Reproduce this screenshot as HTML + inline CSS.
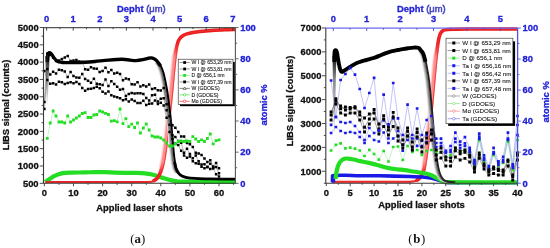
<!DOCTYPE html>
<html><head><meta charset="utf-8"><title>LIBS depth profiles</title>
<style>
html,body{margin:0;padding:0;background:#fff;}
body{width:550px;height:248px;overflow:hidden;}
svg{display:block;font-family:"Liberation Sans", Arial, sans-serif;filter:blur(0.45px);}
</style></head><body>
<svg width="550" height="248" viewBox="0 0 550 248">
<rect width="550" height="248" fill="#fff"/>
<path d="M45.2,182.2 C45.5,181.97 46.2,181.37 47,180.8 C47.8,180.23 48.83,179.57 50,178.8 C51.17,178.03 52.67,176.92 54,176.2 C55.33,175.48 56.53,175 58,174.5 C59.47,174 60.8,173.5 62.8,173.2 C64.8,172.9 66.3,172.83 70,172.7 C73.7,172.57 80.83,172.5 85,172.4 C89.17,172.3 91.67,172.13 95,172.1 C98.33,172.07 101.67,172.12 105,172.2 C108.33,172.28 111.67,172.5 115,172.6 C118.33,172.7 121.67,172.75 125,172.8 C128.33,172.85 131.67,172.82 135,172.9 C138.33,172.98 142.17,173.03 145,173.3 C147.83,173.57 149.83,174 152,174.5 C154.17,175 156,175.67 158,176.3 C160,176.93 162,177.68 164,178.3 C166,178.92 168,179.52 170,180 C172,180.48 173.67,180.92 176,181.2 C178.33,181.48 174.17,181.58 184,181.7 C193.83,181.82 226.5,181.87 235,181.9" fill="none" stroke="#22dd22" stroke-width="4.2" stroke-linejoin="round" stroke-linecap="butt" />
<defs><linearGradient id="rga" gradientUnits="userSpaceOnUse" x1="0" y1="28" x2="0" y2="183"><stop offset="0" stop-color="#ee1c1c"/><stop offset="0.103" stop-color="#ee1c1c"/><stop offset="0.194" stop-color="#ff8c8c"/><stop offset="0.865" stop-color="#ff8c8c"/><stop offset="0.942" stop-color="#ee1c1c"/><stop offset="1" stop-color="#ee1c1c"/></linearGradient></defs>
<path d="M45.5,182.1 C57.92,182.1 102.92,182.13 120,182.1 C137.08,182.07 142.5,182.05 148,181.9 C153.5,181.75 151.5,181.77 153,181.2 C154.5,180.63 156.04,179.78 157,178.5 C157.96,177.22 158.29,175.58 158.74,173.5 C159.19,171.42 159.19,169.08 159.7,166 C160.21,162.92 161.15,159 161.8,155 C162.45,151 163.05,146.5 163.6,142 C164.15,137.5 164.62,132.67 165.1,128 C165.58,123.33 166.05,118.33 166.5,114 C166.95,109.67 167.38,106 167.8,102 C168.22,98 168.62,94 169,90 C169.38,86 169.73,81.83 170.1,78 C170.47,74.17 170.82,70.67 171.2,67 C171.58,63.33 171.8,59.17 172.4,56 C173,52.83 173.94,50.25 174.82,48 C175.7,45.75 176.83,44.07 177.66,42.5 C178.49,40.93 178.99,39.68 179.8,38.6 C180.61,37.52 181.3,36.78 182.5,36 C183.7,35.22 185.25,34.48 187,33.9 C188.75,33.32 190.83,32.9 193,32.5 C195.17,32.1 196.83,31.85 200,31.5 C203.17,31.15 207.83,30.7 212,30.4 C216.17,30.1 221.17,29.87 225,29.7 C228.83,29.53 233.33,29.45 235,29.4" fill="none" stroke="#ffe2e2" stroke-width="1.5" stroke-linejoin="round" stroke-linecap="butt" />
<path d="M45.5,182.1 C57.92,182.1 102.92,182.13 120,182.1 C137.08,182.07 142.5,182.05 148,181.9 C153.5,181.75 151.5,181.77 153,181.2 C154.5,180.63 155.99,179.78 157,178.5 C158.01,177.22 158.49,175.58 159.06,173.5 C159.62,171.42 159.83,169.08 160.4,166 C160.97,162.92 161.85,159 162.5,155 C163.15,151 163.75,146.5 164.3,142 C164.85,137.5 165.32,132.67 165.8,128 C166.28,123.33 166.75,118.33 167.2,114 C167.65,109.67 168.08,106 168.5,102 C168.92,98 169.32,94 169.7,90 C170.08,86 170.43,81.83 170.8,78 C171.17,74.17 171.52,70.67 171.9,67 C172.28,63.33 172.54,59.17 173.1,56 C173.66,52.83 174.47,50.25 175.24,48 C176.01,45.75 176.94,44.07 177.7,42.5 C178.46,40.93 179,39.68 179.8,38.6 C180.6,37.52 181.3,36.78 182.5,36 C183.7,35.22 185.25,34.48 187,33.9 C188.75,33.32 190.83,32.9 193,32.5 C195.17,32.1 196.83,31.85 200,31.5 C203.17,31.15 207.83,30.7 212,30.4 C216.17,30.1 221.17,29.87 225,29.7 C228.83,29.53 233.33,29.45 235,29.4" fill="none" stroke="#ffc8c8" stroke-width="1.5" stroke-linejoin="round" stroke-linecap="butt" />
<path d="M45.5,182.1 C57.92,182.1 102.92,182.13 120,182.1 C137.08,182.07 142.5,182.05 148,181.9 C153.5,181.75 151.5,181.77 153,181.2 C154.5,180.63 155.94,179.78 157,178.5 C158.06,177.22 158.69,175.58 159.37,173.5 C160.05,171.42 160.46,169.08 161.1,166 C161.74,162.92 162.55,159 163.2,155 C163.85,151 164.45,146.5 165,142 C165.55,137.5 166.02,132.67 166.5,128 C166.98,123.33 167.45,118.33 167.9,114 C168.35,109.67 168.78,106 169.2,102 C169.62,98 170.02,94 170.4,90 C170.78,86 171.13,81.83 171.5,78 C171.87,74.17 172.22,70.67 172.6,67 C172.98,63.33 173.29,59.17 173.8,56 C174.31,52.83 175,50.25 175.66,48 C176.31,45.75 177.04,44.07 177.73,42.5 C178.42,40.93 179.01,39.68 179.8,38.6 C180.59,37.52 181.3,36.78 182.5,36 C183.7,35.22 185.25,34.48 187,33.9 C188.75,33.32 190.83,32.9 193,32.5 C195.17,32.1 196.83,31.85 200,31.5 C203.17,31.15 207.83,30.7 212,30.4 C216.17,30.1 221.17,29.87 225,29.7 C228.83,29.53 233.33,29.45 235,29.4" fill="none" stroke="#ffacac" stroke-width="1.5" stroke-linejoin="round" stroke-linecap="butt" />
<path d="M153,181.2 C153.67,180.75 155.83,179.78 157,178.5 C158.17,177.22 159.08,175.58 160,173.5 C160.92,171.42 161.73,169.08 162.5,166 C163.27,162.92 163.95,159 164.6,155 C165.25,151 165.85,146.5 166.4,142 C166.95,137.5 167.42,132.67 167.9,128 C168.38,123.33 168.85,118.33 169.3,114 C169.75,109.67 170.18,106 170.6,102 C171.02,98 171.42,94 171.8,90 C172.18,86 172.53,81.83 172.9,78 C173.27,74.17 173.62,70.67 174,67 C174.38,63.33 174.78,59.17 175.2,56 C175.62,52.83 176.07,50.25 176.5,48 C176.93,45.75 177.25,44.07 177.8,42.5 C178.35,40.93 179.02,39.68 179.8,38.6 C180.58,37.52 181.3,36.78 182.5,36 C183.7,35.22 185.25,34.48 187,33.9 C188.75,33.32 190.83,32.9 193,32.5 C195.17,32.1 196.83,31.85 200,31.5 C203.17,31.15 207.83,30.7 212,30.4 C216.17,30.1 221.17,29.87 225,29.7 C228.83,29.53 233.33,29.45 235,29.4" fill="none" stroke="url(#rga)" stroke-width="3.5" stroke-linejoin="round" stroke-linecap="butt" />
<path d="M45.5,182.1 C57.92,182.1 102.92,182.13 120,182.1 C137.08,182.07 142.5,182.05 148,181.9 C153.5,181.75 151.5,181.77 153,181.2 C154.5,180.63 156.33,178.95 157,178.5" fill="none" stroke="#ee1c1c" stroke-width="2.0" stroke-linejoin="round" stroke-linecap="butt" />
<path d="M45.5,182.1 C57.92,182.1 102.92,182.13 120,182.1 C137.08,182.07 142.5,182.05 148,181.9 C153.5,181.75 151.5,181.77 153,181.2 C154.5,180.63 155.75,179.78 157,178.5 C158.25,177.22 159.4,175.58 160.5,173.5 C161.59,171.42 162.73,169.08 163.6,166 C164.47,162.92 165.05,159 165.7,155 C166.35,151 166.95,146.5 167.5,142 C168.05,137.5 168.52,132.67 169,128 C169.48,123.33 169.95,118.33 170.4,114 C170.85,109.67 171.28,106 171.7,102 C172.12,98 172.52,94 172.9,90 C173.28,86 173.63,81.83 174,78 C174.37,74.17 174.72,70.67 175.1,67 C175.48,63.33 175.96,59.17 176.3,56 C176.64,52.83 176.9,50.25 177.16,48 C177.42,45.75 177.42,44.07 177.86,42.5 C178.3,40.93 179.03,39.68 179.8,38.6 C180.57,37.52 181.3,36.78 182.5,36 C183.7,35.22 185.25,34.48 187,33.9 C188.75,33.32 190.83,32.9 193,32.5 C195.17,32.1 196.83,31.85 200,31.5 C203.17,31.15 207.83,30.7 212,30.4 C216.17,30.1 221.17,29.87 225,29.7 C228.83,29.53 233.33,29.45 235,29.4" fill="none" stroke="#ec3434" stroke-width="0.9" stroke-linejoin="round" stroke-linecap="butt" />
<defs><linearGradient id="ga" x1="0" y1="0" x2="0" y2="1"><stop offset="0" stop-color="#111"/><stop offset="0.35" stop-color="#777"/><stop offset="1" stop-color="#f2f2f2"/></linearGradient><linearGradient id="gb" x1="0" y1="0" x2="0" y2="1"><stop offset="0" stop-color="#111"/><stop offset="0.3" stop-color="#888"/><stop offset="1" stop-color="#f0f0f0"/></linearGradient></defs>
<path d="M45.4,56 L49.6,56 L47.6,104 L46.6,104 Z" fill="url(#ga)"/>
<path d="M155.1,63 C155.43,63.5 156.48,64.83 157.1,66 C157.72,67.17 158.3,68.67 158.8,70 C159.3,71.33 159.68,72.42 160.1,74 C160.52,75.58 160.85,77.33 161.3,79.5 C161.75,81.67 162.33,84.42 162.8,87 C163.27,89.58 163.68,92.17 164.1,95 C164.52,97.83 164.92,101 165.3,104 C165.68,107 166.05,110 166.4,113 C166.75,116 167.08,118.83 167.4,122 C167.72,125.17 168,128.5 168.3,132 C168.6,135.5 168.9,139.5 169.2,143 C169.5,146.5 169.77,149.83 170.1,153 C170.43,156.17 170.78,159.42 171.2,162 C171.62,164.58 171.95,166.67 172.6,168.5 C173.25,170.33 174.68,172.25 175.1,173" fill="none" stroke="#e6e6e6" stroke-width="1.4" stroke-linejoin="round" stroke-linecap="butt" />
<path d="M155.8,63 C156.13,63.5 157.18,64.83 157.8,66 C158.42,67.17 159,68.67 159.5,70 C160,71.33 160.38,72.42 160.8,74 C161.22,75.58 161.55,77.33 162,79.5 C162.45,81.67 163.03,84.42 163.5,87 C163.97,89.58 164.38,92.17 164.8,95 C165.22,97.83 165.62,101 166,104 C166.38,107 166.75,110 167.1,113 C167.45,116 167.78,118.83 168.1,122 C168.42,125.17 168.7,128.5 169,132 C169.3,135.5 169.6,139.5 169.9,143 C170.2,146.5 170.47,149.83 170.8,153 C171.13,156.17 171.48,159.42 171.9,162 C172.32,164.58 172.65,166.67 173.3,168.5 C173.95,170.33 175.38,172.25 175.8,173" fill="none" stroke="#c8c8c8" stroke-width="1.4" stroke-linejoin="round" stroke-linecap="butt" />
<path d="M156.5,63 C156.83,63.5 157.88,64.83 158.5,66 C159.12,67.17 159.7,68.67 160.2,70 C160.7,71.33 161.08,72.42 161.5,74 C161.92,75.58 162.25,77.33 162.7,79.5 C163.15,81.67 163.73,84.42 164.2,87 C164.67,89.58 165.08,92.17 165.5,95 C165.92,97.83 166.32,101 166.7,104 C167.08,107 167.45,110 167.8,113 C168.15,116 168.48,118.83 168.8,122 C169.12,125.17 169.4,128.5 169.7,132 C170,135.5 170.3,139.5 170.6,143 C170.9,146.5 171.17,149.83 171.5,153 C171.83,156.17 172.18,159.42 172.6,162 C173.02,164.58 173.35,166.67 174,168.5 C174.65,170.33 176.08,172.25 176.5,173" fill="none" stroke="#a0a0a0" stroke-width="1.4" stroke-linejoin="round" stroke-linecap="butt" />
<path d="M157.2,63 C157.53,63.5 158.58,64.83 159.2,66 C159.82,67.17 160.4,68.67 160.9,70 C161.4,71.33 161.78,72.42 162.2,74 C162.62,75.58 162.95,77.33 163.4,79.5 C163.85,81.67 164.43,84.42 164.9,87 C165.37,89.58 165.78,92.17 166.2,95 C166.62,97.83 167.02,101 167.4,104 C167.78,107 168.15,110 168.5,113 C168.85,116 169.18,118.83 169.5,122 C169.82,125.17 170.1,128.5 170.4,132 C170.7,135.5 171,139.5 171.3,143 C171.6,146.5 171.87,149.83 172.2,153 C172.53,156.17 172.88,159.42 173.3,162 C173.72,164.58 174.05,166.67 174.7,168.5 C175.35,170.33 176.78,172.25 177.2,173" fill="none" stroke="#707070" stroke-width="1.4" stroke-linejoin="round" stroke-linecap="butt" />
<path d="M158.8,63 C159.13,63.5 160.18,64.83 160.8,66 C161.42,67.17 162,68.67 162.5,70 C163,71.33 163.38,72.42 163.8,74 C164.22,75.58 164.55,77.33 165,79.5 C165.45,81.67 166.03,84.42 166.5,87 C166.97,89.58 167.38,92.17 167.8,95 C168.22,97.83 168.62,101 169,104 C169.38,107 169.75,110 170.1,113 C170.45,116 170.78,118.83 171.1,122 C171.42,125.17 171.7,128.5 172,132 C172.3,135.5 172.6,139.5 172.9,143 C173.2,146.5 173.47,149.83 173.8,153 C174.13,156.17 174.48,159.42 174.9,162 C175.32,164.58 175.65,166.67 176.3,168.5 C176.95,170.33 178.38,172.25 178.8,173" fill="none" stroke="#000" stroke-width="2.0" stroke-linejoin="round" stroke-linecap="butt" />
<path d="M173,162 C173.23,163.08 173.75,166.67 174.4,168.5 C175.05,170.33 175.9,171.75 176.9,173 C177.9,174.25 178.98,175.23 180.4,176 C181.82,176.77 182.97,177.2 185.4,177.6 C187.83,178 190.9,178.18 195,178.4 C199.1,178.62 203.33,178.77 210,178.9 C216.67,179.03 230.83,179.15 235,179.2" fill="none" stroke="#aaa" stroke-width="1.2" stroke-linejoin="round" stroke-linecap="butt" />
<path d="M173.8,162 C174.03,163.08 174.55,166.67 175.2,168.5 C175.85,170.33 176.7,171.75 177.7,173 C178.7,174.25 179.78,175.23 181.2,176 C182.62,176.77 183.9,177.2 186.2,177.6 C188.5,178 191.03,178.18 195,178.4 C198.97,178.62 203.33,178.77 210,178.9 C216.67,179.03 230.83,179.15 235,179.2" fill="none" stroke="#555" stroke-width="1.4" stroke-linejoin="round" stroke-linecap="butt" />
<path d="M174.6,162 C174.83,163.08 175.35,166.67 176,168.5 C176.65,170.33 177.5,171.75 178.5,173 C179.5,174.25 180.58,175.23 182,176 C183.42,176.77 184.83,177.2 187,177.6 C189.17,178 191.17,178.18 195,178.4 C198.83,178.62 203.33,178.77 210,178.9 C216.67,179.03 230.83,179.15 235,179.2" fill="none" stroke="#000" stroke-width="2.8" stroke-linejoin="round" stroke-linecap="butt" />
<path d="M47.3,62 C47.35,61 47.4,57.47 47.6,56 C47.8,54.53 48.1,53.73 48.5,53.2 C48.9,52.67 49.42,52.53 50,52.8 C50.58,53.07 51.25,53.85 52,54.8 C52.75,55.75 53.58,57.43 54.5,58.5 C55.42,59.57 56.42,60.58 57.5,61.2 C58.58,61.82 59.58,61.97 61,62.2 C62.42,62.43 63.67,62.53 66,62.6 C68.33,62.67 71.83,62.65 75,62.6 C78.17,62.55 81.67,62.48 85,62.3 C88.33,62.12 91.07,61.87 95,61.5 C98.93,61.13 104.1,60.47 108.6,60.1 C113.1,59.73 118.43,59.3 122,59.3 C125.57,59.3 127.67,59.88 130,60.1 C132.33,60.32 133.88,60.67 136,60.6 C138.12,60.53 140.7,60.08 142.7,59.7 C144.7,59.32 146.58,58.6 148,58.3 C149.42,58 150.2,57.82 151.2,57.9 C152.2,57.98 153.13,58.35 154,58.8 C154.87,59.25 155.65,59.9 156.4,60.6 C157.15,61.3 157.82,62.1 158.5,63 C159.18,63.9 160.17,65.5 160.5,66" fill="none" stroke="#000" stroke-width="3.4" stroke-linejoin="round" stroke-linecap="butt" />
<path d="M44.4,102 L47.31,53.5 L50.22,55 L53.13,57.5 L56.04,61 L58.95,60.5 L61.86,58.9 L64.77,57.5 L67.68,55.9 L70.59,61 L73.5,60.5 L76.41,60.1 L79.32,61.5 L82.23,62 L85.14,69.23 L88.05,69.72 L90.96,67.13 L93.87,68.53 L96.78,68.73 L99.69,71.91 L102.6,71.01 L105.51,67.73 L108.42,72.21 L111.33,69.95 L114.24,73.61 L117.15,72.81 L120.06,73.91 L122.97,80.18 L125.88,78.49 L128.79,79.35 L131.7,84.18 L134.61,84.44 L137.52,82.24 L140.43,86.57 L143.34,85.2 L146.25,86.5 L149.16,84.61 L152.07,89.01 L154.98,88.28 L157.89,90.28 L160.8,90.48 L163.71,87.95 L166.62,104.28 L169.53,116.26 L172.44,125.16 L175.35,127.74 L178.26,131.97 L181.17,136.54 L184.08,136.42 L186.99,142.93 L189.9,144.16 L192.81,147.01 L195.72,152.66 L198.63,153.4 L201.54,155.04 L204.45,158.4 L207.36,162.06 L210.27,160.2 L213.18,166.47 L216.09,163.02 L219,168.3" fill="none" stroke="#555" stroke-width="0.45" stroke-linejoin="round" />
<path d="M44.4,109 L47.31,68.95 L50.22,74.42 L53.13,71.78 L56.04,73.46 L58.95,69.82 L61.86,70.3 L64.77,71.45 L67.68,76.94 L70.59,72.01 L73.5,76.05 L76.41,77.46 L79.32,77.78 L82.23,73.94 L85.14,79.01 L88.05,80.67 L90.96,82.87 L93.87,78.83 L96.78,83.69 L99.69,84.27 L102.6,84.95 L105.51,79.6 L108.42,86.03 L111.33,81.22 L114.24,83.92 L117.15,86.75 L120.06,89.84 L122.97,88.91 L125.88,95.88 L128.79,93.91 L131.7,92.92 L134.61,93.55 L137.52,93.21 L140.43,93.13 L143.34,93.99 L146.25,98.04 L149.16,100.5 L152.07,95.2 L154.98,94.81 L157.89,101.56 L160.8,98.85 L163.71,98.36 L166.62,110.21 L169.53,124.64 L172.44,135.22 L175.35,136.95 L178.26,140.97 L181.17,142.73 L184.08,152.83 L186.99,148.82 L189.9,153.96 L192.81,158.3 L195.72,155.49 L198.63,161.33 L201.54,164.56 L204.45,164.14 L207.36,166.96 L210.27,163.83 L213.18,167.55 L216.09,167.11 L219,173.34" fill="none" stroke="#555" stroke-width="0.45" stroke-linejoin="round" />
<path d="M44.4,71 L47.31,80.1 L50.22,83.77 L53.13,83.27 L56.04,84.39 L58.95,81.64 L61.86,82.24 L64.77,84.07 L67.68,82.95 L70.59,82.21 L73.5,83.27 L76.41,82.11 L79.32,83.88 L82.23,87.93 L85.14,90.76 L88.05,89.1 L90.96,88.66 L93.87,88.03 L96.78,86.87 L99.69,88.3 L102.6,91.69 L105.51,93.4 L108.42,91.57 L111.33,95.32 L114.24,96.45 L117.15,97.17 L120.06,98.32 L122.97,100.22 L125.88,99.18 L128.79,101.57 L131.7,99.38 L134.61,100.95 L137.52,103 L140.43,102.88 L143.34,100.84 L146.25,105.1 L149.16,103.67 L152.07,103.6 L154.98,100.53 L157.89,104.09 L160.8,102.66 L163.71,105.53 L166.62,117.78 L169.53,131.9 L172.44,138.88 L175.35,143.79 L178.26,145.09 L181.17,150.86 L184.08,155.43 L186.99,157.72 L189.9,156.6 L192.81,161.31 L195.72,163.22 L198.63,163.63 L201.54,166.86 L204.45,168.24 L207.36,167.11 L210.27,168.93 L213.18,168.5 L216.09,174.27 L219,176.62" fill="none" stroke="#555" stroke-width="0.45" stroke-linejoin="round" />
<path d="M43.15,100.75h2.5v2.5h-2.5zM46.06,52.25h2.5v2.5h-2.5zM48.97,53.75h2.5v2.5h-2.5zM51.88,56.25h2.5v2.5h-2.5zM54.79,59.75h2.5v2.5h-2.5zM57.7,59.25h2.5v2.5h-2.5zM60.61,57.65h2.5v2.5h-2.5zM63.52,56.25h2.5v2.5h-2.5zM66.43,54.65h2.5v2.5h-2.5zM69.34,59.75h2.5v2.5h-2.5zM72.25,59.25h2.5v2.5h-2.5zM75.16,58.85h2.5v2.5h-2.5zM78.07,60.25h2.5v2.5h-2.5zM80.98,60.75h2.5v2.5h-2.5zM83.89,67.98h2.5v2.5h-2.5zM86.8,68.47h2.5v2.5h-2.5zM89.71,65.88h2.5v2.5h-2.5zM92.62,67.28h2.5v2.5h-2.5zM95.53,67.48h2.5v2.5h-2.5zM98.44,70.66h2.5v2.5h-2.5zM101.35,69.76h2.5v2.5h-2.5zM104.26,66.48h2.5v2.5h-2.5zM107.17,70.96h2.5v2.5h-2.5zM110.08,68.7h2.5v2.5h-2.5zM112.99,72.36h2.5v2.5h-2.5zM115.9,71.56h2.5v2.5h-2.5zM118.81,72.66h2.5v2.5h-2.5zM121.72,78.93h2.5v2.5h-2.5zM124.63,77.24h2.5v2.5h-2.5zM127.54,78.1h2.5v2.5h-2.5zM130.45,82.93h2.5v2.5h-2.5zM133.36,83.19h2.5v2.5h-2.5zM136.27,80.99h2.5v2.5h-2.5zM139.18,85.32h2.5v2.5h-2.5zM142.09,83.95h2.5v2.5h-2.5zM145,85.25h2.5v2.5h-2.5zM147.91,83.36h2.5v2.5h-2.5zM150.82,87.76h2.5v2.5h-2.5zM153.73,87.03h2.5v2.5h-2.5zM156.64,89.03h2.5v2.5h-2.5zM159.55,89.23h2.5v2.5h-2.5zM162.46,86.7h2.5v2.5h-2.5zM165.37,103.03h2.5v2.5h-2.5zM168.28,115.01h2.5v2.5h-2.5zM171.19,123.91h2.5v2.5h-2.5zM174.1,126.49h2.5v2.5h-2.5zM177.01,130.72h2.5v2.5h-2.5zM179.92,135.29h2.5v2.5h-2.5zM182.83,135.17h2.5v2.5h-2.5zM185.74,141.68h2.5v2.5h-2.5zM188.65,142.91h2.5v2.5h-2.5zM191.56,145.76h2.5v2.5h-2.5zM194.47,151.41h2.5v2.5h-2.5zM197.38,152.15h2.5v2.5h-2.5zM200.29,153.79h2.5v2.5h-2.5zM203.2,157.15h2.5v2.5h-2.5zM206.11,160.81h2.5v2.5h-2.5zM209.02,158.95h2.5v2.5h-2.5zM211.93,165.22h2.5v2.5h-2.5zM214.84,161.77h2.5v2.5h-2.5zM217.75,167.05h2.5v2.5h-2.5z" fill="#000"/>
<path d="M43.15,107.75h2.5v2.5h-2.5zM46.06,67.7h2.5v2.5h-2.5zM48.97,73.17h2.5v2.5h-2.5zM51.88,70.53h2.5v2.5h-2.5zM54.79,72.21h2.5v2.5h-2.5zM57.7,68.57h2.5v2.5h-2.5zM60.61,69.05h2.5v2.5h-2.5zM63.52,70.2h2.5v2.5h-2.5zM66.43,75.69h2.5v2.5h-2.5zM69.34,70.76h2.5v2.5h-2.5zM72.25,74.8h2.5v2.5h-2.5zM75.16,76.21h2.5v2.5h-2.5zM78.07,76.53h2.5v2.5h-2.5zM80.98,72.69h2.5v2.5h-2.5zM83.89,77.76h2.5v2.5h-2.5zM86.8,79.42h2.5v2.5h-2.5zM89.71,81.62h2.5v2.5h-2.5zM92.62,77.58h2.5v2.5h-2.5zM95.53,82.44h2.5v2.5h-2.5zM98.44,83.02h2.5v2.5h-2.5zM101.35,83.7h2.5v2.5h-2.5zM104.26,78.35h2.5v2.5h-2.5zM107.17,84.78h2.5v2.5h-2.5zM110.08,79.97h2.5v2.5h-2.5zM112.99,82.67h2.5v2.5h-2.5zM115.9,85.5h2.5v2.5h-2.5zM118.81,88.59h2.5v2.5h-2.5zM121.72,87.66h2.5v2.5h-2.5zM124.63,94.63h2.5v2.5h-2.5zM127.54,92.66h2.5v2.5h-2.5zM130.45,91.67h2.5v2.5h-2.5zM133.36,92.3h2.5v2.5h-2.5zM136.27,91.96h2.5v2.5h-2.5zM139.18,91.88h2.5v2.5h-2.5zM142.09,92.74h2.5v2.5h-2.5zM145,96.79h2.5v2.5h-2.5zM147.91,99.25h2.5v2.5h-2.5zM150.82,93.95h2.5v2.5h-2.5zM153.73,93.56h2.5v2.5h-2.5zM156.64,100.31h2.5v2.5h-2.5zM159.55,97.6h2.5v2.5h-2.5zM162.46,97.11h2.5v2.5h-2.5zM165.37,108.96h2.5v2.5h-2.5zM168.28,123.39h2.5v2.5h-2.5zM171.19,133.97h2.5v2.5h-2.5zM174.1,135.7h2.5v2.5h-2.5zM177.01,139.72h2.5v2.5h-2.5zM179.92,141.48h2.5v2.5h-2.5zM182.83,151.58h2.5v2.5h-2.5zM185.74,147.57h2.5v2.5h-2.5zM188.65,152.71h2.5v2.5h-2.5zM191.56,157.05h2.5v2.5h-2.5zM194.47,154.24h2.5v2.5h-2.5zM197.38,160.08h2.5v2.5h-2.5zM200.29,163.31h2.5v2.5h-2.5zM203.2,162.89h2.5v2.5h-2.5zM206.11,165.71h2.5v2.5h-2.5zM209.02,162.58h2.5v2.5h-2.5zM211.93,166.3h2.5v2.5h-2.5zM214.84,165.86h2.5v2.5h-2.5zM217.75,172.09h2.5v2.5h-2.5z" fill="#000"/>
<path d="M43.15,69.75h2.5v2.5h-2.5zM46.06,78.85h2.5v2.5h-2.5zM48.97,82.52h2.5v2.5h-2.5zM51.88,82.02h2.5v2.5h-2.5zM54.79,83.14h2.5v2.5h-2.5zM57.7,80.39h2.5v2.5h-2.5zM60.61,80.99h2.5v2.5h-2.5zM63.52,82.82h2.5v2.5h-2.5zM66.43,81.7h2.5v2.5h-2.5zM69.34,80.96h2.5v2.5h-2.5zM72.25,82.02h2.5v2.5h-2.5zM75.16,80.86h2.5v2.5h-2.5zM78.07,82.63h2.5v2.5h-2.5zM80.98,86.68h2.5v2.5h-2.5zM83.89,89.51h2.5v2.5h-2.5zM86.8,87.85h2.5v2.5h-2.5zM89.71,87.41h2.5v2.5h-2.5zM92.62,86.78h2.5v2.5h-2.5zM95.53,85.62h2.5v2.5h-2.5zM98.44,87.05h2.5v2.5h-2.5zM101.35,90.44h2.5v2.5h-2.5zM104.26,92.15h2.5v2.5h-2.5zM107.17,90.32h2.5v2.5h-2.5zM110.08,94.07h2.5v2.5h-2.5zM112.99,95.2h2.5v2.5h-2.5zM115.9,95.92h2.5v2.5h-2.5zM118.81,97.07h2.5v2.5h-2.5zM121.72,98.97h2.5v2.5h-2.5zM124.63,97.93h2.5v2.5h-2.5zM127.54,100.32h2.5v2.5h-2.5zM130.45,98.13h2.5v2.5h-2.5zM133.36,99.7h2.5v2.5h-2.5zM136.27,101.75h2.5v2.5h-2.5zM139.18,101.63h2.5v2.5h-2.5zM142.09,99.59h2.5v2.5h-2.5zM145,103.85h2.5v2.5h-2.5zM147.91,102.42h2.5v2.5h-2.5zM150.82,102.35h2.5v2.5h-2.5zM153.73,99.28h2.5v2.5h-2.5zM156.64,102.84h2.5v2.5h-2.5zM159.55,101.41h2.5v2.5h-2.5zM162.46,104.28h2.5v2.5h-2.5zM165.37,116.53h2.5v2.5h-2.5zM168.28,130.65h2.5v2.5h-2.5zM171.19,137.63h2.5v2.5h-2.5zM174.1,142.54h2.5v2.5h-2.5zM177.01,143.84h2.5v2.5h-2.5zM179.92,149.61h2.5v2.5h-2.5zM182.83,154.18h2.5v2.5h-2.5zM185.74,156.47h2.5v2.5h-2.5zM188.65,155.35h2.5v2.5h-2.5zM191.56,160.06h2.5v2.5h-2.5zM194.47,161.97h2.5v2.5h-2.5zM197.38,162.38h2.5v2.5h-2.5zM200.29,165.61h2.5v2.5h-2.5zM203.2,166.99h2.5v2.5h-2.5zM206.11,165.86h2.5v2.5h-2.5zM209.02,167.68h2.5v2.5h-2.5zM211.93,167.25h2.5v2.5h-2.5zM214.84,173.02h2.5v2.5h-2.5zM217.75,175.37h2.5v2.5h-2.5z" fill="#000"/>
<path d="M47.31,138.4 L50.22,123 L53.13,111 L56.04,116 L58.95,122 L61.86,122 L64.77,123 L67.68,116 L70.59,122 L73.5,120 L76.41,118 L79.32,116 L82.23,113.5 L85.14,112.7 L88.05,117.5 L90.96,117.5 L93.87,115 L96.78,114.5 L99.69,111 L102.6,112 L105.51,113.3 L108.42,114.5 L111.33,121.2 L114.24,120.6 L117.15,121.8 L120.06,109 L122.97,123.6 L125.88,118.7 L128.79,126.6 L131.7,124.2 L134.61,127.5 L137.52,123 L140.43,133 L143.34,128 L146.25,124 L149.16,130 L152.07,136 L154.98,137 L157.89,137 L160.8,138 L163.71,140 L166.62,143 L169.53,146 L172.44,146 L175.35,144 L178.26,141.5 L181.17,141 L184.08,141.5 L186.99,141 L189.9,141.5 L192.81,136.6 L195.72,139 L198.63,141.5 L201.54,139.8 L204.45,141.5 L207.36,138.5 L210.27,134 L213.18,143.9 L216.09,140.6 L219,139.8" fill="none" stroke="#66ee66" stroke-width="0.45" stroke-linejoin="round" />
<path d="M45.91,137h2.8v2.8h-2.8zM48.82,121.6h2.8v2.8h-2.8zM51.73,109.6h2.8v2.8h-2.8zM54.64,114.6h2.8v2.8h-2.8zM57.55,120.6h2.8v2.8h-2.8zM60.46,120.6h2.8v2.8h-2.8zM63.37,121.6h2.8v2.8h-2.8zM66.28,114.6h2.8v2.8h-2.8zM69.19,120.6h2.8v2.8h-2.8zM72.1,118.6h2.8v2.8h-2.8zM75.01,116.6h2.8v2.8h-2.8zM77.92,114.6h2.8v2.8h-2.8zM80.83,112.1h2.8v2.8h-2.8zM83.74,111.3h2.8v2.8h-2.8zM86.65,116.1h2.8v2.8h-2.8zM89.56,116.1h2.8v2.8h-2.8zM92.47,113.6h2.8v2.8h-2.8zM95.38,113.1h2.8v2.8h-2.8zM98.29,109.6h2.8v2.8h-2.8zM101.2,110.6h2.8v2.8h-2.8zM104.11,111.9h2.8v2.8h-2.8zM107.02,113.1h2.8v2.8h-2.8zM109.93,119.8h2.8v2.8h-2.8zM112.84,119.2h2.8v2.8h-2.8zM115.75,120.4h2.8v2.8h-2.8zM118.66,107.6h2.8v2.8h-2.8zM121.57,122.2h2.8v2.8h-2.8zM124.48,117.3h2.8v2.8h-2.8zM127.39,125.2h2.8v2.8h-2.8zM130.3,122.8h2.8v2.8h-2.8zM133.21,126.1h2.8v2.8h-2.8zM136.12,121.6h2.8v2.8h-2.8zM139.03,131.6h2.8v2.8h-2.8zM141.94,126.6h2.8v2.8h-2.8zM144.85,122.6h2.8v2.8h-2.8zM147.76,128.6h2.8v2.8h-2.8zM150.67,134.6h2.8v2.8h-2.8zM153.58,135.6h2.8v2.8h-2.8zM156.49,135.6h2.8v2.8h-2.8zM159.4,136.6h2.8v2.8h-2.8zM162.31,138.6h2.8v2.8h-2.8zM165.22,141.6h2.8v2.8h-2.8zM168.13,144.6h2.8v2.8h-2.8zM171.04,144.6h2.8v2.8h-2.8zM173.95,142.6h2.8v2.8h-2.8zM176.86,140.1h2.8v2.8h-2.8zM179.77,139.6h2.8v2.8h-2.8zM182.68,140.1h2.8v2.8h-2.8zM185.59,139.6h2.8v2.8h-2.8zM188.5,140.1h2.8v2.8h-2.8zM191.41,135.2h2.8v2.8h-2.8zM194.32,137.6h2.8v2.8h-2.8zM197.23,140.1h2.8v2.8h-2.8zM200.14,138.4h2.8v2.8h-2.8zM203.05,140.1h2.8v2.8h-2.8zM205.96,137.1h2.8v2.8h-2.8zM208.87,132.6h2.8v2.8h-2.8zM211.78,142.5h2.8v2.8h-2.8zM214.69,139.2h2.8v2.8h-2.8zM217.6,138.4h2.8v2.8h-2.8z" fill="#22dd22"/>
<path d="M43.5,27.6V183.3" stroke="#3a3a3a" stroke-width="1.1"/>
<path d="M43,183.3H235.9" stroke="#3a3a3a" stroke-width="1.1"/>
<path d="M43,27.6H235.9" stroke="#555" stroke-width="1.1"/>
<path d="M235.4,27.6V183.3" stroke="#555" stroke-width="1.1"/>
<path d="M43.5,183.3h-3.8M43.5,174.65h-2M43.5,165.99h-3.8M43.5,157.34h-2M43.5,148.68h-3.8M43.5,140.03h-2M43.5,131.37h-3.8M43.5,122.72h-2M43.5,114.06h-3.8M43.5,105.41h-2M43.5,96.75h-3.8M43.5,88.1h-2M43.5,79.44h-3.8M43.5,70.79h-2M43.5,62.13h-3.8M43.5,53.48h-2M43.5,44.82h-3.8M43.5,36.17h-2M43.5,27.51h-3.8" stroke="#3a3a3a" stroke-width="0.9"/>
<path d="M44.4,183.3v3M58.95,183.3v1.6M73.5,183.3v3M88.05,183.3v1.6M102.6,183.3v3M117.15,183.3v1.6M131.7,183.3v3M146.25,183.3v1.6M160.8,183.3v3M175.35,183.3v1.6M189.9,183.3v3M204.45,183.3v1.6M219,183.3v3M233.55,183.3v1.6" stroke="#3a3a3a" stroke-width="0.9"/>
<path d="M46.6,27.6v3M59.9,27.6v1.6M73.2,27.6v3M86.5,27.6v1.6M99.8,27.6v3M113.1,27.6v1.6M126.4,27.6v3M139.7,27.6v1.6M153,27.6v3M166.3,27.6v1.6M179.6,27.6v3M192.9,27.6v1.6M206.2,27.6v3M219.5,27.6v1.6M232.8,27.6v3" stroke="#333" stroke-width="0.9"/>
<path d="M235.4,183.3h3.2M235.4,167.73h1.8M235.4,152.16h3.2M235.4,136.59h1.8M235.4,121.02h3.2M235.4,105.45h1.8M235.4,89.88h3.2M235.4,74.31h1.8M235.4,58.74h3.2M235.4,43.17h1.8M235.4,27.6h3.2" stroke="#555" stroke-width="0.9"/>
<text x="38.6" y="186.6" font-size="9.4" font-weight="bold" fill="#111" stroke="#111" stroke-width="0.3" text-anchor="end" >500</text>
<text x="38.6" y="169.29" font-size="9.4" font-weight="bold" fill="#111" stroke="#111" stroke-width="0.3" text-anchor="end" >1000</text>
<text x="38.6" y="151.98" font-size="9.4" font-weight="bold" fill="#111" stroke="#111" stroke-width="0.3" text-anchor="end" >1500</text>
<text x="38.6" y="134.67" font-size="9.4" font-weight="bold" fill="#111" stroke="#111" stroke-width="0.3" text-anchor="end" >2000</text>
<text x="38.6" y="117.36" font-size="9.4" font-weight="bold" fill="#111" stroke="#111" stroke-width="0.3" text-anchor="end" >2500</text>
<text x="38.6" y="100.05" font-size="9.4" font-weight="bold" fill="#111" stroke="#111" stroke-width="0.3" text-anchor="end" >3000</text>
<text x="38.6" y="82.74" font-size="9.4" font-weight="bold" fill="#111" stroke="#111" stroke-width="0.3" text-anchor="end" >3500</text>
<text x="38.6" y="65.43" font-size="9.4" font-weight="bold" fill="#111" stroke="#111" stroke-width="0.3" text-anchor="end" >4000</text>
<text x="38.6" y="48.12" font-size="9.4" font-weight="bold" fill="#111" stroke="#111" stroke-width="0.3" text-anchor="end" >4500</text>
<text x="38.6" y="30.81" font-size="9.4" font-weight="bold" fill="#111" stroke="#111" stroke-width="0.3" text-anchor="end" >5000</text>
<text x="44.4" y="196.3" font-size="9.4" font-weight="bold" fill="#111" stroke="#111" stroke-width="0.3" text-anchor="middle" >0</text>
<text x="73.5" y="196.3" font-size="9.4" font-weight="bold" fill="#111" stroke="#111" stroke-width="0.3" text-anchor="middle" >10</text>
<text x="102.6" y="196.3" font-size="9.4" font-weight="bold" fill="#111" stroke="#111" stroke-width="0.3" text-anchor="middle" >20</text>
<text x="131.7" y="196.3" font-size="9.4" font-weight="bold" fill="#111" stroke="#111" stroke-width="0.3" text-anchor="middle" >30</text>
<text x="160.8" y="196.3" font-size="9.4" font-weight="bold" fill="#111" stroke="#111" stroke-width="0.3" text-anchor="middle" >40</text>
<text x="189.9" y="196.3" font-size="9.4" font-weight="bold" fill="#111" stroke="#111" stroke-width="0.3" text-anchor="middle" >50</text>
<text x="219" y="196.3" font-size="9.4" font-weight="bold" fill="#111" stroke="#111" stroke-width="0.3" text-anchor="middle" >60</text>
<text x="46.6" y="21.6" font-size="9.4" font-weight="bold" fill="#2222d8" stroke="#2222d8" stroke-width="0.3" text-anchor="middle" >0</text>
<text x="73.2" y="21.6" font-size="9.4" font-weight="bold" fill="#2222d8" stroke="#2222d8" stroke-width="0.3" text-anchor="middle" >1</text>
<text x="99.8" y="21.6" font-size="9.4" font-weight="bold" fill="#2222d8" stroke="#2222d8" stroke-width="0.3" text-anchor="middle" >2</text>
<text x="126.4" y="21.6" font-size="9.4" font-weight="bold" fill="#2222d8" stroke="#2222d8" stroke-width="0.3" text-anchor="middle" >3</text>
<text x="153" y="21.6" font-size="9.4" font-weight="bold" fill="#2222d8" stroke="#2222d8" stroke-width="0.3" text-anchor="middle" >4</text>
<text x="179.6" y="21.6" font-size="9.4" font-weight="bold" fill="#2222d8" stroke="#2222d8" stroke-width="0.3" text-anchor="middle" >5</text>
<text x="206.2" y="21.6" font-size="9.4" font-weight="bold" fill="#2222d8" stroke="#2222d8" stroke-width="0.3" text-anchor="middle" >6</text>
<text x="232.8" y="21.6" font-size="9.4" font-weight="bold" fill="#2222d8" stroke="#2222d8" stroke-width="0.3" text-anchor="middle" >7</text>
<text x="240.2" y="186.6" font-size="9.4" font-weight="bold" fill="#2222d8" stroke="#2222d8" stroke-width="0.3" text-anchor="start" >0</text>
<text x="240.2" y="155.46" font-size="9.4" font-weight="bold" fill="#2222d8" stroke="#2222d8" stroke-width="0.3" text-anchor="start" >20</text>
<text x="240.2" y="124.32" font-size="9.4" font-weight="bold" fill="#2222d8" stroke="#2222d8" stroke-width="0.3" text-anchor="start" >40</text>
<text x="240.2" y="93.18" font-size="9.4" font-weight="bold" fill="#2222d8" stroke="#2222d8" stroke-width="0.3" text-anchor="start" >60</text>
<text x="240.2" y="62.04" font-size="9.4" font-weight="bold" fill="#2222d8" stroke="#2222d8" stroke-width="0.3" text-anchor="start" >80</text>
<text x="240.2" y="30.9" font-size="9.4" font-weight="bold" fill="#2222d8" stroke="#2222d8" stroke-width="0.3" text-anchor="start" >100</text>
<text x="139.5" y="211.2" font-size="9.4" font-weight="bold" fill="#111" stroke="#111" stroke-width="0.3" text-anchor="middle" >Applied laser shots</text>
<text x="117" y="11.8" font-size="9.4" font-weight="bold" fill="#2222d8" stroke="#2222d8" stroke-width="0.3" text-anchor="start" >Depht <tspan fill="#4a4ac4" stroke="#4a4ac4" font-weight="normal" stroke-width="0.6">(μm)</tspan></text>
<text transform="translate(9.4,105) rotate(-90)" font-size="9.4" font-weight="bold" fill="#111" stroke="#111" stroke-width="0.3" text-anchor="middle">LIBS signal (counts)</text>
<text transform="translate(266.6,105) rotate(-90)" font-size="9.4" font-weight="bold" fill="#2222d8" stroke="#2222d8" stroke-width="0.3" text-anchor="middle">atomic %</text>
<rect x="180" y="62" width="54.8" height="44.2" fill="#000"/>
<rect x="178.2" y="59.2" width="54.8" height="45.2" fill="#fff" stroke="#222" stroke-width="0.6"/>
<path d="M179.5,62.5H189.8" stroke="#555" stroke-width="0.6"/>
<rect x="183.25" y="61.1" width="2.8" height="2.8" fill="#000"/>
<text x="191.4" y="64.35" font-size="5.15" fill="#1a1a1a" stroke="#1a1a1a" stroke-width="0.1">W I @ 653,29 nm</text>
<path d="M179.5,68.97H189.8" stroke="#555" stroke-width="0.6"/>
<rect x="183.25" y="67.57" width="2.8" height="2.8" fill="#000"/>
<text x="191.4" y="70.82" font-size="5.15" fill="#1a1a1a" stroke="#1a1a1a" stroke-width="0.1">W I @ 653,81 nm</text>
<path d="M179.5,75.44H189.8" stroke="#66ee66" stroke-width="0.6"/>
<rect x="183.25" y="74.04" width="2.8" height="2.8" fill="#22dd22"/>
<text x="191.4" y="77.29" font-size="5.15" fill="#1a1a1a" stroke="#1a1a1a" stroke-width="0.1">D @ 656,1 nm</text>
<path d="M179.5,81.91H189.8" stroke="#555" stroke-width="0.6"/>
<rect x="183.25" y="80.51" width="2.8" height="2.8" fill="#000"/>
<text x="191.4" y="83.76" font-size="5.15" fill="#1a1a1a" stroke="#1a1a1a" stroke-width="0.1">W I @ 657,39 nm</text>
<path d="M179.5,88.38H189.8" stroke="#333" stroke-width="0.6"/>
<path d="M183.15,89.48L184.65,86.98L186.15,89.48z" fill="#fff" stroke="#333" stroke-width="0.6"/>
<text x="191.4" y="90.23" font-size="5.15" fill="#1a1a1a" stroke="#1a1a1a" stroke-width="0.1">W (GDOES)</text>
<path d="M179.5,94.85H189.8" stroke="#22dd22" stroke-width="0.6"/>
<circle cx="184.65" cy="94.85" r="1.3" fill="#fff" stroke="#22dd22" stroke-width="0.6"/>
<text x="191.4" y="96.7" font-size="5.15" fill="#1a1a1a" stroke="#1a1a1a" stroke-width="0.1">D (GDOES)</text>
<path d="M179.5,101.32H189.8" stroke="#ee1c1c" stroke-width="0.6"/>
<circle cx="184.65" cy="101.32" r="1.3" fill="#fff" stroke="#ee1c1c" stroke-width="0.6"/>
<text x="191.4" y="103.17" font-size="5.15" fill="#1a1a1a" stroke="#1a1a1a" stroke-width="0.1">Mo (GDOES)</text>
<defs><linearGradient id="rgb" gradientUnits="userSpaceOnUse" x1="0" y1="28" x2="0" y2="183"><stop offset="0" stop-color="#ee1c1c"/><stop offset="0.103" stop-color="#ee1c1c"/><stop offset="0.194" stop-color="#ff8c8c"/><stop offset="0.865" stop-color="#ff8c8c"/><stop offset="0.942" stop-color="#ee1c1c"/><stop offset="1" stop-color="#ee1c1c"/></linearGradient></defs>
<path d="M332,181.8 C343.33,181.8 386.67,181.83 400,181.8 C413.33,181.77 409.33,181.77 412,181.6 C414.67,181.43 414.83,181.27 416,180.8 C417.17,180.33 418.21,179.73 419,178.8 C419.79,177.87 420.29,176.78 420.72,175.2 C421.14,173.62 421.15,172.33 421.56,169.3 C421.98,166.27 422.66,161.05 423.2,157 C423.74,152.95 424.3,149 424.8,145 C425.3,141 425.77,137 426.2,133 C426.63,129 427.03,124.83 427.4,121 C427.77,117.17 428.07,113.67 428.4,110 C428.73,106.33 429.07,102.67 429.4,99 C429.73,95.33 430.07,91.67 430.4,88 C430.73,84.33 431.07,80.67 431.4,77 C431.73,73.33 432.07,69.33 432.4,66 C432.73,62.67 432.95,59.75 433.4,57 C433.85,54.25 434.34,51.92 435.1,49.5 C435.86,47.08 437.28,44.58 437.96,42.5 C438.64,40.42 438.76,38.55 439.2,37 C439.64,35.45 440.05,34.2 440.6,33.2 C441.15,32.2 441.77,31.55 442.5,31 C443.23,30.45 443.42,30.18 445,29.9 C446.58,29.62 447.83,29.45 452,29.3 C456.17,29.15 459.17,29.07 470,29 C480.83,28.93 509.17,28.92 517,28.9" fill="none" stroke="#ffe2e2" stroke-width="1.5" stroke-linejoin="round" stroke-linecap="butt" />
<path d="M332,181.8 C343.33,181.8 386.67,181.83 400,181.8 C413.33,181.77 409.33,181.77 412,181.6 C414.67,181.43 414.83,181.27 416,180.8 C417.17,180.33 418.18,179.73 419,178.8 C419.82,177.87 420.38,176.78 420.91,175.2 C421.44,173.62 421.68,172.33 422.17,169.3 C422.67,166.27 423.35,161.05 423.9,157 C424.45,152.95 425,149 425.5,145 C426,141 426.47,137 426.9,133 C427.33,129 427.73,124.83 428.1,121 C428.47,117.17 428.77,113.67 429.1,110 C429.43,106.33 429.77,102.67 430.1,99 C430.43,95.33 430.77,91.67 431.1,88 C431.43,84.33 431.77,80.67 432.1,77 C432.43,73.33 432.77,69.33 433.1,66 C433.43,62.67 433.68,59.75 434.1,57 C434.52,54.25 434.98,51.92 435.62,49.5 C436.27,47.08 437.4,44.58 438,42.5 C438.59,40.42 438.77,38.55 439.2,37 C439.63,35.45 440.05,34.2 440.6,33.2 C441.15,32.2 441.77,31.55 442.5,31 C443.23,30.45 443.42,30.18 445,29.9 C446.58,29.62 447.83,29.45 452,29.3 C456.17,29.15 459.17,29.07 470,29 C480.83,28.93 509.17,28.92 517,28.9" fill="none" stroke="#ffc8c8" stroke-width="1.5" stroke-linejoin="round" stroke-linecap="butt" />
<path d="M332,181.8 C343.33,181.8 386.67,181.83 400,181.8 C413.33,181.77 409.33,181.77 412,181.6 C414.67,181.43 414.83,181.27 416,180.8 C417.17,180.33 418.15,179.73 419,178.8 C419.85,177.87 420.48,176.78 421.11,175.2 C421.74,173.62 422.2,172.33 422.78,169.3 C423.36,166.27 424.03,161.05 424.6,157 C425.17,152.95 425.7,149 426.2,145 C426.7,141 427.17,137 427.6,133 C428.03,129 428.43,124.83 428.8,121 C429.17,117.17 429.47,113.67 429.8,110 C430.13,106.33 430.47,102.67 430.8,99 C431.13,95.33 431.47,91.67 431.8,88 C432.13,84.33 432.47,80.67 432.8,77 C433.13,73.33 433.47,69.33 433.8,66 C434.13,62.67 434.41,59.75 434.8,57 C435.19,54.25 435.61,51.92 436.15,49.5 C436.69,47.08 437.52,44.58 438.03,42.5 C438.54,40.42 438.77,38.55 439.2,37 C439.63,35.45 440.05,34.2 440.6,33.2 C441.15,32.2 441.77,31.55 442.5,31 C443.23,30.45 443.42,30.18 445,29.9 C446.58,29.62 447.83,29.45 452,29.3 C456.17,29.15 459.17,29.07 470,29 C480.83,28.93 509.17,28.92 517,28.9" fill="none" stroke="#ffacac" stroke-width="1.5" stroke-linejoin="round" stroke-linecap="butt" />
<path d="M416,180.8 C416.5,180.47 418.08,179.73 419,178.8 C419.92,177.87 420.67,176.78 421.5,175.2 C422.33,173.62 423.25,172.33 424,169.3 C424.75,166.27 425.4,161.05 426,157 C426.6,152.95 427.1,149 427.6,145 C428.1,141 428.57,137 429,133 C429.43,129 429.83,124.83 430.2,121 C430.57,117.17 430.87,113.67 431.2,110 C431.53,106.33 431.87,102.67 432.2,99 C432.53,95.33 432.87,91.67 433.2,88 C433.53,84.33 433.87,80.67 434.2,77 C434.53,73.33 434.87,69.33 435.2,66 C435.53,62.67 435.87,59.75 436.2,57 C436.53,54.25 436.88,51.92 437.2,49.5 C437.52,47.08 437.77,44.58 438.1,42.5 C438.43,40.42 438.78,38.55 439.2,37 C439.62,35.45 440.05,34.2 440.6,33.2 C441.15,32.2 441.77,31.55 442.5,31 C443.23,30.45 443.42,30.18 445,29.9 C446.58,29.62 447.83,29.45 452,29.3 C456.17,29.15 459.17,29.07 470,29 C480.83,28.93 509.17,28.92 517,28.9" fill="none" stroke="url(#rgb)" stroke-width="3.5" stroke-linejoin="round" stroke-linecap="butt" />
<path d="M332,181.8 C343.33,181.8 386.67,181.83 400,181.8 C413.33,181.77 409.33,181.77 412,181.6 C414.67,181.43 414.83,181.27 416,180.8 C417.17,180.33 418.5,179.13 419,178.8" fill="none" stroke="#ee1c1c" stroke-width="2.0" stroke-linejoin="round" stroke-linecap="butt" />
<path d="M332,181.8 C343.33,181.8 386.67,181.83 400,181.8 C413.33,181.77 409.33,181.77 412,181.6 C414.67,181.43 414.83,181.27 416,180.8 C417.17,180.33 418.03,179.73 419,178.8 C419.97,177.87 420.82,176.78 421.81,175.2 C422.8,173.62 424.07,172.33 424.96,169.3 C425.84,166.27 426.48,161.05 427.1,157 C427.72,152.95 428.2,149 428.7,145 C429.2,141 429.67,137 430.1,133 C430.53,129 430.93,124.83 431.3,121 C431.67,117.17 431.97,113.67 432.3,110 C432.63,106.33 432.97,102.67 433.3,99 C433.63,95.33 433.97,91.67 434.3,88 C434.63,84.33 434.97,80.67 435.3,77 C435.63,73.33 435.97,69.33 436.3,66 C436.63,62.67 437.01,59.75 437.3,57 C437.59,54.25 437.88,51.92 438.02,49.5 C438.17,47.08 437.96,44.58 438.16,42.5 C438.35,40.42 438.79,38.55 439.2,37 C439.61,35.45 440.05,34.2 440.6,33.2 C441.15,32.2 441.77,31.55 442.5,31 C443.23,30.45 443.42,30.18 445,29.9 C446.58,29.62 447.83,29.45 452,29.3 C456.17,29.15 459.17,29.07 470,29 C480.83,28.93 509.17,28.92 517,28.9" fill="none" stroke="#ec3434" stroke-width="0.9" stroke-linejoin="round" stroke-linecap="butt" />
<path d="M332.5,182.4 C332.52,181.5 332.38,178.15 332.6,177 C332.82,175.85 331.73,175.78 333.8,175.5 C335.87,175.22 340.63,175.27 345,175.3 C349.37,175.33 354.17,175.62 360,175.7 C365.83,175.78 371.67,175.67 380,175.8 C388.33,175.93 402.5,176.27 410,176.5 C417.5,176.73 421.33,176.92 425,177.2 C428.67,177.48 429.83,177.73 432,178.2 C434.17,178.67 436,179.4 438,180 C440,180.6 441.67,181.37 444,181.8 C446.33,182.23 439.83,182.43 452,182.6 C464.17,182.77 506.17,182.77 517,182.8" fill="none" stroke="#1a1ae6" stroke-width="3.6" stroke-linejoin="round" stroke-linecap="butt" />
<rect x="332" y="174" width="3.2" height="8.4" fill="#1a1ae6"/>
<path d="M335.6,179 C335.67,178.33 335.82,176.33 336,175 C336.18,173.67 336.42,172.33 336.7,171 C336.98,169.67 337.32,168.2 337.7,167 C338.08,165.8 338.48,164.77 339,163.8 C339.52,162.83 340.13,161.93 340.8,161.2 C341.47,160.47 342.13,159.85 343,159.4 C343.87,158.95 344.83,158.6 346,158.5 C347.17,158.4 348.5,158.58 350,158.8 C351.5,159.02 353.33,159.42 355,159.8 C356.67,160.18 358.17,160.68 360,161.1 C361.83,161.52 364,161.88 366,162.3 C368,162.72 369.57,162.98 372,163.6 C374.43,164.22 377.93,165.27 380.6,166 C383.27,166.73 385.6,167.5 388,168 C390.4,168.5 392.83,168.72 395,169 C397.17,169.28 398.5,169.37 401,169.7 C403.5,170.03 406.33,170.45 410,171 C413.67,171.55 419.67,172.37 423,173 C426.33,173.63 427.83,174.05 430,174.8 C432.17,175.55 434,176.55 436,177.5 C438,178.45 439.67,179.73 442,180.5 C444.33,181.27 437.5,181.78 450,182.1 C462.5,182.42 505.83,182.35 517,182.4" fill="none" stroke="#22dd22" stroke-width="4.2" stroke-linejoin="round" stroke-linecap="butt" />
<path d="M332.5,56 L336.3,56 L334.8,132 L333.8,132 Z" fill="url(#gb)"/>
<path d="M417.8,50.5 C418.08,50.87 418.97,51.7 419.5,52.7 C420.03,53.7 420.53,54.98 421,56.5 C421.47,58.02 421.87,59.8 422.3,61.8 C422.73,63.8 423.15,66.07 423.6,68.5 C424.05,70.93 424.55,73.32 425,76.4 C425.45,79.48 425.9,83.4 426.3,87 C426.7,90.6 427.05,94.33 427.4,98 C427.75,101.67 428.07,105.33 428.4,109 C428.73,112.67 429.07,116.33 429.4,120 C429.73,123.67 430.07,127.33 430.4,131 C430.73,134.67 431.07,138.5 431.4,142 C431.73,145.5 432.05,149 432.4,152 C432.75,155 433.1,157.42 433.5,160 C433.9,162.58 434.32,165.25 434.8,167.5 C435.28,169.75 435.82,171.83 436.4,173.5 C436.98,175.17 437.57,176.37 438.3,177.5 C439.03,178.63 439.72,179.58 440.8,180.3 C441.88,181.02 442.97,181.47 444.8,181.8 C446.63,182.13 450.63,182.22 451.8,182.3" fill="none" stroke="#e6e6e6" stroke-width="1.3" stroke-linejoin="round" stroke-linecap="butt" />
<path d="M418.5,50.5 C418.78,50.87 419.67,51.7 420.2,52.7 C420.73,53.7 421.23,54.98 421.7,56.5 C422.17,58.02 422.57,59.8 423,61.8 C423.43,63.8 423.85,66.07 424.3,68.5 C424.75,70.93 425.25,73.32 425.7,76.4 C426.15,79.48 426.6,83.4 427,87 C427.4,90.6 427.75,94.33 428.1,98 C428.45,101.67 428.77,105.33 429.1,109 C429.43,112.67 429.77,116.33 430.1,120 C430.43,123.67 430.77,127.33 431.1,131 C431.43,134.67 431.77,138.5 432.1,142 C432.43,145.5 432.75,149 433.1,152 C433.45,155 433.8,157.42 434.2,160 C434.6,162.58 435.02,165.25 435.5,167.5 C435.98,169.75 436.52,171.83 437.1,173.5 C437.68,175.17 438.27,176.37 439,177.5 C439.73,178.63 440.42,179.58 441.5,180.3 C442.58,181.02 443.67,181.47 445.5,181.8 C447.33,182.13 451.33,182.22 452.5,182.3" fill="none" stroke="#c8c8c8" stroke-width="1.3" stroke-linejoin="round" stroke-linecap="butt" />
<path d="M419.2,50.5 C419.48,50.87 420.37,51.7 420.9,52.7 C421.43,53.7 421.93,54.98 422.4,56.5 C422.87,58.02 423.27,59.8 423.7,61.8 C424.13,63.8 424.55,66.07 425,68.5 C425.45,70.93 425.95,73.32 426.4,76.4 C426.85,79.48 427.3,83.4 427.7,87 C428.1,90.6 428.45,94.33 428.8,98 C429.15,101.67 429.47,105.33 429.8,109 C430.13,112.67 430.47,116.33 430.8,120 C431.13,123.67 431.47,127.33 431.8,131 C432.13,134.67 432.47,138.5 432.8,142 C433.13,145.5 433.45,149 433.8,152 C434.15,155 434.5,157.42 434.9,160 C435.3,162.58 435.72,165.25 436.2,167.5 C436.68,169.75 437.22,171.83 437.8,173.5 C438.38,175.17 438.97,176.37 439.7,177.5 C440.43,178.63 441.12,179.58 442.2,180.3 C443.28,181.02 444.37,181.47 446.2,181.8 C448.03,182.13 452.03,182.22 453.2,182.3" fill="none" stroke="#a4a4a4" stroke-width="1.3" stroke-linejoin="round" stroke-linecap="butt" />
<path d="M419.9,50.5 C420.18,50.87 421.07,51.7 421.6,52.7 C422.13,53.7 422.63,54.98 423.1,56.5 C423.57,58.02 423.97,59.8 424.4,61.8 C424.83,63.8 425.25,66.07 425.7,68.5 C426.15,70.93 426.65,73.32 427.1,76.4 C427.55,79.48 428,83.4 428.4,87 C428.8,90.6 429.15,94.33 429.5,98 C429.85,101.67 430.17,105.33 430.5,109 C430.83,112.67 431.17,116.33 431.5,120 C431.83,123.67 432.17,127.33 432.5,131 C432.83,134.67 433.17,138.5 433.5,142 C433.83,145.5 434.15,149 434.5,152 C434.85,155 435.2,157.42 435.6,160 C436,162.58 436.42,165.25 436.9,167.5 C437.38,169.75 437.92,171.83 438.5,173.5 C439.08,175.17 439.67,176.37 440.4,177.5 C441.13,178.63 441.82,179.58 442.9,180.3 C443.98,181.02 445.07,181.47 446.9,181.8 C448.73,182.13 452.73,182.22 453.9,182.3" fill="none" stroke="#7a7a7a" stroke-width="1.3" stroke-linejoin="round" stroke-linecap="butt" />
<path d="M421.3,50.5 C421.58,50.87 422.47,51.7 423,52.7 C423.53,53.7 424.03,54.98 424.5,56.5 C424.97,58.02 425.37,59.8 425.8,61.8 C426.23,63.8 426.65,66.07 427.1,68.5 C427.55,70.93 428.05,73.32 428.5,76.4 C428.95,79.48 429.4,83.4 429.8,87 C430.2,90.6 430.55,94.33 430.9,98 C431.25,101.67 431.57,105.33 431.9,109 C432.23,112.67 432.57,116.33 432.9,120 C433.23,123.67 433.57,127.33 433.9,131 C434.23,134.67 434.57,138.5 434.9,142 C435.23,145.5 435.55,149 435.9,152 C436.25,155 436.6,157.42 437,160 C437.4,162.58 437.82,165.25 438.3,167.5 C438.78,169.75 439.32,171.83 439.9,173.5 C440.48,175.17 441.07,176.37 441.8,177.5 C442.53,178.63 443.22,179.58 444.3,180.3 C445.38,181.02 446.47,181.47 448.3,181.8 C450.13,182.13 454.13,182.22 455.3,182.3" fill="none" stroke="#222" stroke-width="1.9" stroke-linejoin="round" stroke-linecap="butt" />
<path d="M334.3,62 C334.32,60.67 334.3,55.9 334.4,54 C334.5,52.1 334.63,51.22 334.9,50.6 C335.17,49.98 335.67,50.03 336,50.3 C336.33,50.57 336.6,51 336.9,52.2 C337.2,53.4 337.47,55.53 337.8,57.5 C338.13,59.47 338.5,62 338.9,64 C339.3,66 339.72,68.2 340.2,69.5 C340.68,70.8 341.17,71.58 341.8,71.8 C342.43,72.02 342.93,71.4 344,70.8 C345.07,70.2 346.87,69.07 348.2,68.2 C349.53,67.33 350.48,66.52 352,65.6 C353.52,64.68 355.63,63.43 357.3,62.7 C358.97,61.97 360.48,61.65 362,61.2 C363.52,60.75 364.9,60.42 366.4,60 C367.9,59.58 369.48,59.15 371,58.7 C372.52,58.25 374,57.83 375.5,57.3 C377,56.77 378.5,56.12 380,55.5 C381.5,54.88 383,54.17 384.5,53.6 C386,53.03 387.48,52.55 389,52.1 C390.52,51.65 392.1,51.25 393.6,50.9 C395.1,50.55 396.48,50.3 398,50 C399.52,49.7 401.03,49.38 402.7,49.1 C404.37,48.82 406.18,48.55 408,48.3 C409.82,48.05 412.1,47.72 413.6,47.6 C415.1,47.48 416.1,47.5 417,47.6 C417.9,47.7 418.33,47.72 419,48.2 C419.67,48.68 420.38,49.75 421,50.5 C421.62,51.25 422.17,51.7 422.7,52.7 C423.23,53.7 423.73,54.98 424.2,56.5 C424.67,58.02 425.28,60.92 425.5,61.8" fill="none" stroke="#000" stroke-width="3.9" stroke-linejoin="round" stroke-linecap="butt" />
<path d="M331.08,80.5 L335.86,117 L340.64,80 L345.42,74 L350.2,67.8 L354.98,74.7 L359.76,89 L364.54,108 L369.32,93 L374.1,77.8 L378.88,130 L383.66,94.7 L388.44,124.4 L393.22,83 L398,118.4 L402.78,135 L407.56,104.6 L412.34,135 L417.12,108.5 L421.9,135 L426.68,120 L431.46,116 L436.24,138.7 L441.02,138.7 L445.8,150.8 L450.58,146 L455.36,132.7 L460.14,141.7 L464.92,137.2 L469.7,147.8 L474.48,160 L479.26,133.6 L484.04,155.4 L488.82,166 L493.6,147.8 L498.38,161.4 L503.16,156.9 L507.94,132.7 L512.72,164.4 L517.5,116" fill="none" stroke="#9a9af5" stroke-width="0.6" stroke-linejoin="round" />
<path d="M331.08,124.8 L335.86,117 L340.64,122 L345.42,123 L350.2,122 L354.98,126 L359.76,132 L364.54,140 L369.32,128 L374.1,133 L378.88,131 L383.66,120.4 L388.44,138.5 L393.22,118.5 L398,131 L402.78,150.6 L407.56,136 L412.34,138.5 L417.12,138.5 L421.9,141 L426.68,135 L431.46,133 L436.24,143 L441.02,143 L445.8,152 L450.58,150 L455.36,138.7 L460.14,145 L464.92,143.3 L469.7,150 L474.48,162 L479.26,136.6 L484.04,158 L488.82,168 L493.6,152.3 L498.38,163 L503.16,160 L507.94,138.7 L512.72,166 L517.5,125" fill="none" stroke="#9a9af5" stroke-width="0.5" stroke-linejoin="round" />
<path d="M331.08,133 L335.86,127 L340.64,131 L345.42,133 L350.2,132 L354.98,133 L359.76,137 L364.54,143 L369.32,136 L374.1,140 L378.88,141.5 L383.66,132.5 L388.44,143 L393.22,138.5 L398,136 L402.78,145 L407.56,140 L412.34,150 L417.12,145.8 L421.9,146 L426.68,142 L431.46,140 L436.24,147 L441.02,146 L445.8,153 L450.58,152 L455.36,142 L460.14,148 L464.92,146 L469.7,152 L474.48,164 L479.26,139 L484.04,160 L488.82,170 L493.6,154 L498.38,165 L503.16,162 L507.94,140 L512.72,168 L517.5,135" fill="none" stroke="#9a9af5" stroke-width="0.5" stroke-linejoin="round" />
<path d="M331.08,150.5 L335.86,144.8 L340.64,143.3 L345.42,148.3 L350.2,147.6 L354.98,148.7 L359.76,150.5 L364.54,156 L369.32,149.8 L374.1,154 L378.88,159.7 L383.66,151 L388.44,161.5 L393.22,147 L398,146.5 L402.78,160 L407.56,146 L412.34,152 L417.12,150 L421.9,155 L426.68,151 L431.46,150 L436.24,152 L441.02,152 L445.8,157 L450.58,155 L455.36,147.8 L460.14,152 L464.92,150 L469.7,152 L474.48,165 L479.26,140.2 L484.04,162 L488.82,170 L493.6,155 L498.38,166 L503.16,163 L507.94,141.7 L512.72,170 L517.5,140" fill="none" stroke="#8be88b" stroke-width="0.5" stroke-linejoin="round" />
<path d="M331.08,115 L335.86,98.6 L340.64,108.7 L345.42,107 L350.2,107.5 L354.98,108 L359.76,112 L364.54,127.3 L369.32,119 L374.1,109.5 L378.88,129 L383.66,115.6 L388.44,130 L393.22,112.4 L398,141 L402.78,144.6 L407.56,131.3 L412.34,147 L417.12,132.5 L421.9,147 L426.68,138 L431.46,134 L436.24,155 L441.02,152.3 L445.8,160 L450.58,161.4 L455.36,150.8 L460.14,153.8 L464.92,152.3 L469.7,157 L474.48,169 L479.26,155.4 L484.04,166 L488.82,172 L493.6,169 L498.38,170.5 L503.16,172 L507.94,161.4 L512.72,176.5 L517.5,155.4" fill="none" stroke="#555" stroke-width="0.5" stroke-linejoin="round" />
<path d="M331.08,120 L335.86,104 L340.64,113 L345.42,115 L350.2,113 L354.98,113 L359.76,120 L364.54,132 L369.32,124 L374.1,119 L378.88,134 L383.66,126.5 L388.44,135 L393.22,126.5 L398,136 L402.78,148 L407.56,136 L412.34,150 L417.12,137 L421.9,152 L426.68,143 L431.46,140 L436.24,160 L441.02,158 L445.8,166 L450.58,166 L455.36,157 L460.14,160 L464.92,158.4 L469.7,162 L474.48,172 L479.26,158.4 L484.04,169 L488.82,175 L493.6,173.5 L498.38,175 L503.16,175 L507.94,166 L512.72,180 L517.5,160" fill="none" stroke="#555" stroke-width="0.5" stroke-linejoin="round" />
<path d="M331.08,112 L335.86,101 L340.64,106 L345.42,110 L350.2,109 L354.98,106.6 L359.76,115 L364.54,118 L369.32,114 L374.1,113 L378.88,124 L383.66,119 L388.44,127 L393.22,117 L398,128 L402.78,140 L407.56,128 L412.34,142 L417.12,129 L421.9,140 L426.68,133 L431.46,130 L436.24,150 L441.02,148 L445.8,157 L450.58,158 L455.36,148 L460.14,151 L464.92,150 L469.7,155 L474.48,167 L479.26,153 L484.04,164 L488.82,170 L493.6,167 L498.38,169 L503.16,170 L507.94,160 L512.72,175 L517.5,153" fill="none" stroke="#555" stroke-width="0.5" stroke-linejoin="round" />
<path d="M329.73,149.15h2.7v2.7h-2.7zM334.51,143.45h2.7v2.7h-2.7zM339.29,141.95h2.7v2.7h-2.7zM344.07,146.95h2.7v2.7h-2.7zM348.85,146.25h2.7v2.7h-2.7zM353.63,147.35h2.7v2.7h-2.7zM358.41,149.15h2.7v2.7h-2.7zM363.19,154.65h2.7v2.7h-2.7zM367.97,148.45h2.7v2.7h-2.7zM372.75,152.65h2.7v2.7h-2.7zM377.53,158.35h2.7v2.7h-2.7zM382.31,149.65h2.7v2.7h-2.7zM387.09,160.15h2.7v2.7h-2.7zM391.87,145.65h2.7v2.7h-2.7zM396.65,145.15h2.7v2.7h-2.7zM401.43,158.65h2.7v2.7h-2.7zM406.21,144.65h2.7v2.7h-2.7zM410.99,150.65h2.7v2.7h-2.7zM415.77,148.65h2.7v2.7h-2.7zM420.55,153.65h2.7v2.7h-2.7zM425.33,149.65h2.7v2.7h-2.7zM430.11,148.65h2.7v2.7h-2.7zM434.89,150.65h2.7v2.7h-2.7zM439.67,150.65h2.7v2.7h-2.7zM444.45,155.65h2.7v2.7h-2.7zM449.23,153.65h2.7v2.7h-2.7zM454.01,146.45h2.7v2.7h-2.7zM458.79,150.65h2.7v2.7h-2.7zM463.57,148.65h2.7v2.7h-2.7zM468.35,150.65h2.7v2.7h-2.7zM473.13,163.65h2.7v2.7h-2.7zM477.91,138.85h2.7v2.7h-2.7zM482.69,160.65h2.7v2.7h-2.7zM487.47,168.65h2.7v2.7h-2.7zM492.25,153.65h2.7v2.7h-2.7zM497.03,164.65h2.7v2.7h-2.7zM501.81,161.65h2.7v2.7h-2.7zM506.59,140.35h2.7v2.7h-2.7zM511.37,168.65h2.7v2.7h-2.7zM516.15,138.65h2.7v2.7h-2.7z" fill="#22dd22"/>
<path d="M329.73,123.45h2.7v2.7h-2.7zM334.51,115.65h2.7v2.7h-2.7zM339.29,120.65h2.7v2.7h-2.7zM344.07,121.65h2.7v2.7h-2.7zM348.85,120.65h2.7v2.7h-2.7zM353.63,124.65h2.7v2.7h-2.7zM358.41,130.65h2.7v2.7h-2.7zM363.19,138.65h2.7v2.7h-2.7zM367.97,126.65h2.7v2.7h-2.7zM372.75,131.65h2.7v2.7h-2.7zM377.53,129.65h2.7v2.7h-2.7zM382.31,119.05h2.7v2.7h-2.7zM387.09,137.15h2.7v2.7h-2.7zM391.87,117.15h2.7v2.7h-2.7zM396.65,129.65h2.7v2.7h-2.7zM401.43,149.25h2.7v2.7h-2.7zM406.21,134.65h2.7v2.7h-2.7zM410.99,137.15h2.7v2.7h-2.7zM415.77,137.15h2.7v2.7h-2.7zM420.55,139.65h2.7v2.7h-2.7zM425.33,133.65h2.7v2.7h-2.7zM430.11,131.65h2.7v2.7h-2.7zM434.89,141.65h2.7v2.7h-2.7zM439.67,141.65h2.7v2.7h-2.7zM444.45,150.65h2.7v2.7h-2.7zM449.23,148.65h2.7v2.7h-2.7zM454.01,137.35h2.7v2.7h-2.7zM458.79,143.65h2.7v2.7h-2.7zM463.57,141.95h2.7v2.7h-2.7zM468.35,148.65h2.7v2.7h-2.7zM473.13,160.65h2.7v2.7h-2.7zM477.91,135.25h2.7v2.7h-2.7zM482.69,156.65h2.7v2.7h-2.7zM487.47,166.65h2.7v2.7h-2.7zM492.25,150.95h2.7v2.7h-2.7zM497.03,161.65h2.7v2.7h-2.7zM501.81,158.65h2.7v2.7h-2.7zM506.59,137.35h2.7v2.7h-2.7zM511.37,164.65h2.7v2.7h-2.7zM516.15,123.65h2.7v2.7h-2.7z" fill="#1a1ae6"/>
<path d="M329.73,131.65h2.7v2.7h-2.7zM334.51,125.65h2.7v2.7h-2.7zM339.29,129.65h2.7v2.7h-2.7zM344.07,131.65h2.7v2.7h-2.7zM348.85,130.65h2.7v2.7h-2.7zM353.63,131.65h2.7v2.7h-2.7zM358.41,135.65h2.7v2.7h-2.7zM363.19,141.65h2.7v2.7h-2.7zM367.97,134.65h2.7v2.7h-2.7zM372.75,138.65h2.7v2.7h-2.7zM377.53,140.15h2.7v2.7h-2.7zM382.31,131.15h2.7v2.7h-2.7zM387.09,141.65h2.7v2.7h-2.7zM391.87,137.15h2.7v2.7h-2.7zM396.65,134.65h2.7v2.7h-2.7zM401.43,143.65h2.7v2.7h-2.7zM406.21,138.65h2.7v2.7h-2.7zM410.99,148.65h2.7v2.7h-2.7zM415.77,144.45h2.7v2.7h-2.7zM420.55,144.65h2.7v2.7h-2.7zM425.33,140.65h2.7v2.7h-2.7zM430.11,138.65h2.7v2.7h-2.7zM434.89,145.65h2.7v2.7h-2.7zM439.67,144.65h2.7v2.7h-2.7zM444.45,151.65h2.7v2.7h-2.7zM449.23,150.65h2.7v2.7h-2.7zM454.01,140.65h2.7v2.7h-2.7zM458.79,146.65h2.7v2.7h-2.7zM463.57,144.65h2.7v2.7h-2.7zM468.35,150.65h2.7v2.7h-2.7zM473.13,162.65h2.7v2.7h-2.7zM477.91,137.65h2.7v2.7h-2.7zM482.69,158.65h2.7v2.7h-2.7zM487.47,168.65h2.7v2.7h-2.7zM492.25,152.65h2.7v2.7h-2.7zM497.03,163.65h2.7v2.7h-2.7zM501.81,160.65h2.7v2.7h-2.7zM506.59,138.65h2.7v2.7h-2.7zM511.37,166.65h2.7v2.7h-2.7zM516.15,133.65h2.7v2.7h-2.7z" fill="#1a1ae6"/>
<path d="M329.63,113.55h2.9v2.9h-2.9zM334.41,97.15h2.9v2.9h-2.9zM339.19,107.25h2.9v2.9h-2.9zM343.97,105.55h2.9v2.9h-2.9zM348.75,106.05h2.9v2.9h-2.9zM353.53,106.55h2.9v2.9h-2.9zM358.31,110.55h2.9v2.9h-2.9zM363.09,125.85h2.9v2.9h-2.9zM367.87,117.55h2.9v2.9h-2.9zM372.65,108.05h2.9v2.9h-2.9zM377.43,127.55h2.9v2.9h-2.9zM382.21,114.15h2.9v2.9h-2.9zM386.99,128.55h2.9v2.9h-2.9zM391.77,110.95h2.9v2.9h-2.9zM396.55,139.55h2.9v2.9h-2.9zM401.33,143.15h2.9v2.9h-2.9zM406.11,129.85h2.9v2.9h-2.9zM410.89,145.55h2.9v2.9h-2.9zM415.67,131.05h2.9v2.9h-2.9zM420.45,145.55h2.9v2.9h-2.9zM425.23,136.55h2.9v2.9h-2.9zM430.01,132.55h2.9v2.9h-2.9zM434.79,153.55h2.9v2.9h-2.9zM439.57,150.85h2.9v2.9h-2.9zM444.35,158.55h2.9v2.9h-2.9zM449.13,159.95h2.9v2.9h-2.9zM453.91,149.35h2.9v2.9h-2.9zM458.69,152.35h2.9v2.9h-2.9zM463.47,150.85h2.9v2.9h-2.9zM468.25,155.55h2.9v2.9h-2.9zM473.03,167.55h2.9v2.9h-2.9zM477.81,153.95h2.9v2.9h-2.9zM482.59,164.55h2.9v2.9h-2.9zM487.37,170.55h2.9v2.9h-2.9zM492.15,167.55h2.9v2.9h-2.9zM496.93,169.05h2.9v2.9h-2.9zM501.71,170.55h2.9v2.9h-2.9zM506.49,159.95h2.9v2.9h-2.9zM511.27,175.05h2.9v2.9h-2.9zM516.05,153.95h2.9v2.9h-2.9z" fill="#000"/>
<path d="M329.63,118.55h2.9v2.9h-2.9zM334.41,102.55h2.9v2.9h-2.9zM339.19,111.55h2.9v2.9h-2.9zM343.97,113.55h2.9v2.9h-2.9zM348.75,111.55h2.9v2.9h-2.9zM353.53,111.55h2.9v2.9h-2.9zM358.31,118.55h2.9v2.9h-2.9zM363.09,130.55h2.9v2.9h-2.9zM367.87,122.55h2.9v2.9h-2.9zM372.65,117.55h2.9v2.9h-2.9zM377.43,132.55h2.9v2.9h-2.9zM382.21,125.05h2.9v2.9h-2.9zM386.99,133.55h2.9v2.9h-2.9zM391.77,125.05h2.9v2.9h-2.9zM396.55,134.55h2.9v2.9h-2.9zM401.33,146.55h2.9v2.9h-2.9zM406.11,134.55h2.9v2.9h-2.9zM410.89,148.55h2.9v2.9h-2.9zM415.67,135.55h2.9v2.9h-2.9zM420.45,150.55h2.9v2.9h-2.9zM425.23,141.55h2.9v2.9h-2.9zM430.01,138.55h2.9v2.9h-2.9zM434.79,158.55h2.9v2.9h-2.9zM439.57,156.55h2.9v2.9h-2.9zM444.35,164.55h2.9v2.9h-2.9zM449.13,164.55h2.9v2.9h-2.9zM453.91,155.55h2.9v2.9h-2.9zM458.69,158.55h2.9v2.9h-2.9zM463.47,156.95h2.9v2.9h-2.9zM468.25,160.55h2.9v2.9h-2.9zM473.03,170.55h2.9v2.9h-2.9zM477.81,156.95h2.9v2.9h-2.9zM482.59,167.55h2.9v2.9h-2.9zM487.37,173.55h2.9v2.9h-2.9zM492.15,172.05h2.9v2.9h-2.9zM496.93,173.55h2.9v2.9h-2.9zM501.71,173.55h2.9v2.9h-2.9zM506.49,164.55h2.9v2.9h-2.9zM511.27,178.55h2.9v2.9h-2.9zM516.05,158.55h2.9v2.9h-2.9z" fill="#000"/>
<path d="M329.63,110.55h2.9v2.9h-2.9zM334.41,99.55h2.9v2.9h-2.9zM339.19,104.55h2.9v2.9h-2.9zM343.97,108.55h2.9v2.9h-2.9zM348.75,107.55h2.9v2.9h-2.9zM353.53,105.15h2.9v2.9h-2.9zM358.31,113.55h2.9v2.9h-2.9zM363.09,116.55h2.9v2.9h-2.9zM367.87,112.55h2.9v2.9h-2.9zM372.65,111.55h2.9v2.9h-2.9zM377.43,122.55h2.9v2.9h-2.9zM382.21,117.55h2.9v2.9h-2.9zM386.99,125.55h2.9v2.9h-2.9zM391.77,115.55h2.9v2.9h-2.9zM396.55,126.55h2.9v2.9h-2.9zM401.33,138.55h2.9v2.9h-2.9zM406.11,126.55h2.9v2.9h-2.9zM410.89,140.55h2.9v2.9h-2.9zM415.67,127.55h2.9v2.9h-2.9zM420.45,138.55h2.9v2.9h-2.9zM425.23,131.55h2.9v2.9h-2.9zM430.01,128.55h2.9v2.9h-2.9zM434.79,148.55h2.9v2.9h-2.9zM439.57,146.55h2.9v2.9h-2.9zM444.35,155.55h2.9v2.9h-2.9zM449.13,156.55h2.9v2.9h-2.9zM453.91,146.55h2.9v2.9h-2.9zM458.69,149.55h2.9v2.9h-2.9zM463.47,148.55h2.9v2.9h-2.9zM468.25,153.55h2.9v2.9h-2.9zM473.03,165.55h2.9v2.9h-2.9zM477.81,151.55h2.9v2.9h-2.9zM482.59,162.55h2.9v2.9h-2.9zM487.37,168.55h2.9v2.9h-2.9zM492.15,165.55h2.9v2.9h-2.9zM496.93,167.55h2.9v2.9h-2.9zM501.71,168.55h2.9v2.9h-2.9zM506.49,158.55h2.9v2.9h-2.9zM511.27,173.55h2.9v2.9h-2.9zM516.05,151.55h2.9v2.9h-2.9z" fill="#000"/>
<path d="M329.73,79.15h2.7v2.7h-2.7zM334.51,115.65h2.7v2.7h-2.7zM339.29,78.65h2.7v2.7h-2.7zM344.07,72.65h2.7v2.7h-2.7zM348.85,66.45h2.7v2.7h-2.7zM353.63,73.35h2.7v2.7h-2.7zM358.41,87.65h2.7v2.7h-2.7zM363.19,106.65h2.7v2.7h-2.7zM367.97,91.65h2.7v2.7h-2.7zM372.75,76.45h2.7v2.7h-2.7zM377.53,128.65h2.7v2.7h-2.7zM382.31,93.35h2.7v2.7h-2.7zM387.09,123.05h2.7v2.7h-2.7zM391.87,81.65h2.7v2.7h-2.7zM396.65,117.05h2.7v2.7h-2.7zM401.43,133.65h2.7v2.7h-2.7zM406.21,103.25h2.7v2.7h-2.7zM410.99,133.65h2.7v2.7h-2.7zM415.77,107.15h2.7v2.7h-2.7zM420.55,133.65h2.7v2.7h-2.7zM425.33,118.65h2.7v2.7h-2.7zM430.11,114.65h2.7v2.7h-2.7zM434.89,137.35h2.7v2.7h-2.7zM439.67,137.35h2.7v2.7h-2.7zM444.45,149.45h2.7v2.7h-2.7zM449.23,144.65h2.7v2.7h-2.7zM454.01,131.35h2.7v2.7h-2.7zM458.79,140.35h2.7v2.7h-2.7zM463.57,135.85h2.7v2.7h-2.7zM468.35,146.45h2.7v2.7h-2.7zM473.13,158.65h2.7v2.7h-2.7zM477.91,132.25h2.7v2.7h-2.7zM482.69,154.05h2.7v2.7h-2.7zM487.47,164.65h2.7v2.7h-2.7zM492.25,146.45h2.7v2.7h-2.7zM497.03,160.05h2.7v2.7h-2.7zM501.81,155.55h2.7v2.7h-2.7zM506.59,131.35h2.7v2.7h-2.7zM511.37,163.05h2.7v2.7h-2.7zM516.15,114.65h2.7v2.7h-2.7z" fill="#1a1ae6"/>
<path d="M325.8,28.1V183.2" stroke="#3a3a3a" stroke-width="1.1"/>
<path d="M325.3,183.2H518.1" stroke="#3a3a3a" stroke-width="1.1"/>
<path d="M325.3,28.1H518.1" stroke="#6a6af0" stroke-width="1.4"/>
<path d="M517.6,28.1V183.2" stroke="#5050e0" stroke-width="1.3"/>
<path d="M325.8,183.2h-2M325.8,171.26h-3.8M325.8,159.32h-2M325.8,147.38h-3.8M325.8,135.44h-2M325.8,123.5h-3.8M325.8,111.56h-2M325.8,99.62h-3.8M325.8,87.68h-2M325.8,75.74h-3.8M325.8,63.8h-2M325.8,51.86h-3.8M325.8,39.92h-2M325.8,27.98h-3.8" stroke="#3a3a3a" stroke-width="0.9"/>
<path d="M326.3,183.2v3M338.25,183.2v1.6M350.2,183.2v3M362.15,183.2v1.6M374.1,183.2v3M386.05,183.2v1.6M398,183.2v3M409.95,183.2v1.6M421.9,183.2v3M433.85,183.2v1.6M445.8,183.2v3M457.75,183.2v1.6M469.7,183.2v3M481.65,183.2v1.6M493.6,183.2v3M505.55,183.2v1.6M517.5,183.2v3" stroke="#3a3a3a" stroke-width="0.9"/>
<path d="M333.3,28.1v3M350,28.1v1.6M366.7,28.1v3M383.4,28.1v1.6M400.1,28.1v3M416.8,28.1v1.6M433.5,28.1v3M450.2,28.1v1.6M466.9,28.1v3M483.6,28.1v1.6M500.3,28.1v3" stroke="#4848c8" stroke-width="0.9"/>
<path d="M517.6,183.2h3.2M517.6,167.68h1.8M517.6,152.16h3.2M517.6,136.64h1.8M517.6,121.12h3.2M517.6,105.6h1.8M517.6,90.08h3.2M517.6,74.56h1.8M517.6,59.04h3.2M517.6,43.52h1.8M517.6,28h3.2" stroke="#5050e0" stroke-width="0.9"/>
<text x="321.4" y="174.56" font-size="9.4" font-weight="bold" fill="#111" stroke="#111" stroke-width="0.3" text-anchor="end" >1000</text>
<text x="321.4" y="150.68" font-size="9.4" font-weight="bold" fill="#111" stroke="#111" stroke-width="0.3" text-anchor="end" >2000</text>
<text x="321.4" y="126.8" font-size="9.4" font-weight="bold" fill="#111" stroke="#111" stroke-width="0.3" text-anchor="end" >3000</text>
<text x="321.4" y="102.92" font-size="9.4" font-weight="bold" fill="#111" stroke="#111" stroke-width="0.3" text-anchor="end" >4000</text>
<text x="321.4" y="79.04" font-size="9.4" font-weight="bold" fill="#111" stroke="#111" stroke-width="0.3" text-anchor="end" >5000</text>
<text x="321.4" y="55.16" font-size="9.4" font-weight="bold" fill="#111" stroke="#111" stroke-width="0.3" text-anchor="end" >6000</text>
<text x="321.4" y="31.28" font-size="9.4" font-weight="bold" fill="#111" stroke="#111" stroke-width="0.3" text-anchor="end" >7000</text>
<text x="326.3" y="196.3" font-size="9.4" font-weight="bold" fill="#111" stroke="#111" stroke-width="0.3" text-anchor="middle" >0</text>
<text x="350.2" y="196.3" font-size="9.4" font-weight="bold" fill="#111" stroke="#111" stroke-width="0.3" text-anchor="middle" >5</text>
<text x="374.1" y="196.3" font-size="9.4" font-weight="bold" fill="#111" stroke="#111" stroke-width="0.3" text-anchor="middle" >10</text>
<text x="398" y="196.3" font-size="9.4" font-weight="bold" fill="#111" stroke="#111" stroke-width="0.3" text-anchor="middle" >15</text>
<text x="421.9" y="196.3" font-size="9.4" font-weight="bold" fill="#111" stroke="#111" stroke-width="0.3" text-anchor="middle" >20</text>
<text x="445.8" y="196.3" font-size="9.4" font-weight="bold" fill="#111" stroke="#111" stroke-width="0.3" text-anchor="middle" >25</text>
<text x="469.7" y="196.3" font-size="9.4" font-weight="bold" fill="#111" stroke="#111" stroke-width="0.3" text-anchor="middle" >30</text>
<text x="493.6" y="196.3" font-size="9.4" font-weight="bold" fill="#111" stroke="#111" stroke-width="0.3" text-anchor="middle" >35</text>
<text x="517.5" y="196.3" font-size="9.4" font-weight="bold" fill="#111" stroke="#111" stroke-width="0.3" text-anchor="middle" >40</text>
<text x="333.3" y="21.9" font-size="9.4" font-weight="bold" fill="#2222d8" stroke="#2222d8" stroke-width="0.3" text-anchor="middle" >0</text>
<text x="366.7" y="21.9" font-size="9.4" font-weight="bold" fill="#2222d8" stroke="#2222d8" stroke-width="0.3" text-anchor="middle" >1</text>
<text x="400.1" y="21.9" font-size="9.4" font-weight="bold" fill="#2222d8" stroke="#2222d8" stroke-width="0.3" text-anchor="middle" >2</text>
<text x="433.5" y="21.9" font-size="9.4" font-weight="bold" fill="#2222d8" stroke="#2222d8" stroke-width="0.3" text-anchor="middle" >3</text>
<text x="466.9" y="21.9" font-size="9.4" font-weight="bold" fill="#2222d8" stroke="#2222d8" stroke-width="0.3" text-anchor="middle" >4</text>
<text x="500.3" y="21.9" font-size="9.4" font-weight="bold" fill="#2222d8" stroke="#2222d8" stroke-width="0.3" text-anchor="middle" >5</text>
<text x="522.5" y="186.5" font-size="9.4" font-weight="bold" fill="#2222d8" stroke="#2222d8" stroke-width="0.3" text-anchor="start" >0</text>
<text x="522.5" y="155.46" font-size="9.4" font-weight="bold" fill="#2222d8" stroke="#2222d8" stroke-width="0.3" text-anchor="start" >20</text>
<text x="522.5" y="124.42" font-size="9.4" font-weight="bold" fill="#2222d8" stroke="#2222d8" stroke-width="0.3" text-anchor="start" >40</text>
<text x="522.5" y="93.38" font-size="9.4" font-weight="bold" fill="#2222d8" stroke="#2222d8" stroke-width="0.3" text-anchor="start" >60</text>
<text x="522.5" y="62.34" font-size="9.4" font-weight="bold" fill="#2222d8" stroke="#2222d8" stroke-width="0.3" text-anchor="start" >80</text>
<text x="522.5" y="31.3" font-size="9.4" font-weight="bold" fill="#2222d8" stroke="#2222d8" stroke-width="0.3" text-anchor="start" >100</text>
<text x="421.5" y="208.3" font-size="9.4" font-weight="bold" fill="#111" stroke="#111" stroke-width="0.3" text-anchor="middle" >Applied laser shots</text>
<text x="397" y="11.8" font-size="9.4" font-weight="bold" fill="#2222d8" stroke="#2222d8" stroke-width="0.3" text-anchor="start" >Depht <tspan fill="#4a4ac4" stroke="#4a4ac4" font-weight="normal" stroke-width="0.6">(μm)</tspan></text>
<text transform="translate(292.6,101) rotate(-90)" font-size="9.4" font-weight="bold" fill="#111" stroke="#111" stroke-width="0.3" text-anchor="middle">LIBS signal (counts)</text>
<text transform="translate(548.6,101.8) rotate(-90)" font-size="9.4" font-weight="bold" fill="#2222d8" stroke="#2222d8" stroke-width="0.3" text-anchor="middle">atomic %</text>
<rect x="448.2" y="41.4" width="66.9" height="84.5" fill="#000"/>
<rect x="446" y="38.2" width="66.9" height="85.5" fill="#fff" stroke="#222" stroke-width="0.6"/>
<path d="M447.6,43H460" stroke="#555" stroke-width="0.6"/>
<rect x="452.3" y="41.5" width="3" height="3" fill="#000"/>
<text x="462.3" y="45.24" font-size="6.22" fill="#1a1a1a" stroke="#1a1a1a" stroke-width="0.1">W I @ 653,29 nm</text>
<path d="M447.6,50.57H460" stroke="#555" stroke-width="0.6"/>
<rect x="452.3" y="49.07" width="3" height="3" fill="#000"/>
<text x="462.3" y="52.81" font-size="6.22" fill="#1a1a1a" stroke="#1a1a1a" stroke-width="0.1">W I @ 653,81 nm</text>
<path d="M447.6,58.14H460" stroke="#66ee66" stroke-width="0.6"/>
<rect x="452.3" y="56.64" width="3" height="3" fill="#22dd22"/>
<text x="462.3" y="60.38" font-size="6.22" fill="#1a1a1a" stroke="#1a1a1a" stroke-width="0.1">D @ 656,1 nm</text>
<path d="M447.6,65.71H460" stroke="#9a9af5" stroke-width="0.6"/>
<rect x="452.3" y="64.21" width="3" height="3" fill="#1a1ae6"/>
<text x="462.3" y="67.95" font-size="6.22" fill="#1a1a1a" stroke="#1a1a1a" stroke-width="0.1">Ta I @ 656,16 nm</text>
<path d="M447.6,73.28H460" stroke="#9a9af5" stroke-width="0.6"/>
<rect x="452.3" y="71.78" width="3" height="3" fill="#1a1ae6"/>
<text x="462.3" y="75.52" font-size="6.22" fill="#1a1a1a" stroke="#1a1a1a" stroke-width="0.1">Ta I @ 656,42 nm</text>
<path d="M447.6,80.85H460" stroke="#555" stroke-width="0.6"/>
<rect x="452.3" y="79.35" width="3" height="3" fill="#000"/>
<text x="462.3" y="83.09" font-size="6.22" fill="#1a1a1a" stroke="#1a1a1a" stroke-width="0.1">W I @ 657,39 nm</text>
<path d="M447.6,88.42H460" stroke="#9a9af5" stroke-width="0.6"/>
<rect x="452.3" y="86.92" width="3" height="3" fill="#1a1ae6"/>
<text x="462.3" y="90.66" font-size="6.22" fill="#1a1a1a" stroke="#1a1a1a" stroke-width="0.1">Ta I @ 657,48 nm</text>
<path d="M447.6,95.99H460" stroke="#777" stroke-width="0.6"/>
<circle cx="453.8" cy="95.99" r="1.3" fill="#fff" stroke="#777" stroke-width="0.6"/>
<text x="462.3" y="98.23" font-size="6.22" fill="#1a1a1a" stroke="#1a1a1a" stroke-width="0.1">W (GDOES)</text>
<path d="M447.6,103.56H460" stroke="#6fe06f" stroke-width="0.6"/>
<circle cx="453.8" cy="103.56" r="1.3" fill="#fff" stroke="#6fe06f" stroke-width="0.6"/>
<text x="462.3" y="105.8" font-size="6.22" fill="#1a1a1a" stroke="#1a1a1a" stroke-width="0.1">D (GDOES)</text>
<path d="M447.6,111.13H460" stroke="#ee7070" stroke-width="0.6"/>
<circle cx="453.8" cy="111.13" r="1.3" fill="#fff" stroke="#ee7070" stroke-width="0.6"/>
<text x="462.3" y="113.37" font-size="6.22" fill="#1a1a1a" stroke="#1a1a1a" stroke-width="0.1">Mo (GDOES)</text>
<path d="M447.6,118.7H460" stroke="#6868ee" stroke-width="0.6"/>
<circle cx="453.8" cy="118.7" r="1.3" fill="#fff" stroke="#6868ee" stroke-width="0.6"/>
<text x="462.3" y="120.94" font-size="6.22" fill="#1a1a1a" stroke="#1a1a1a" stroke-width="0.1">Ta (GDOES)</text>
<text x="137.8" y="242.6" font-family="'Liberation Serif', serif" font-size="12.8" fill="#111" text-anchor="middle">(<tspan font-weight="bold">a</tspan>)</text>
<text x="416.8" y="242.6" font-family="'Liberation Serif', serif" font-size="12.8" fill="#111" text-anchor="middle">(<tspan dx="0.7" font-weight="bold">b</tspan><tspan dx="0.7">)</tspan></text>
</svg>
</body></html>
